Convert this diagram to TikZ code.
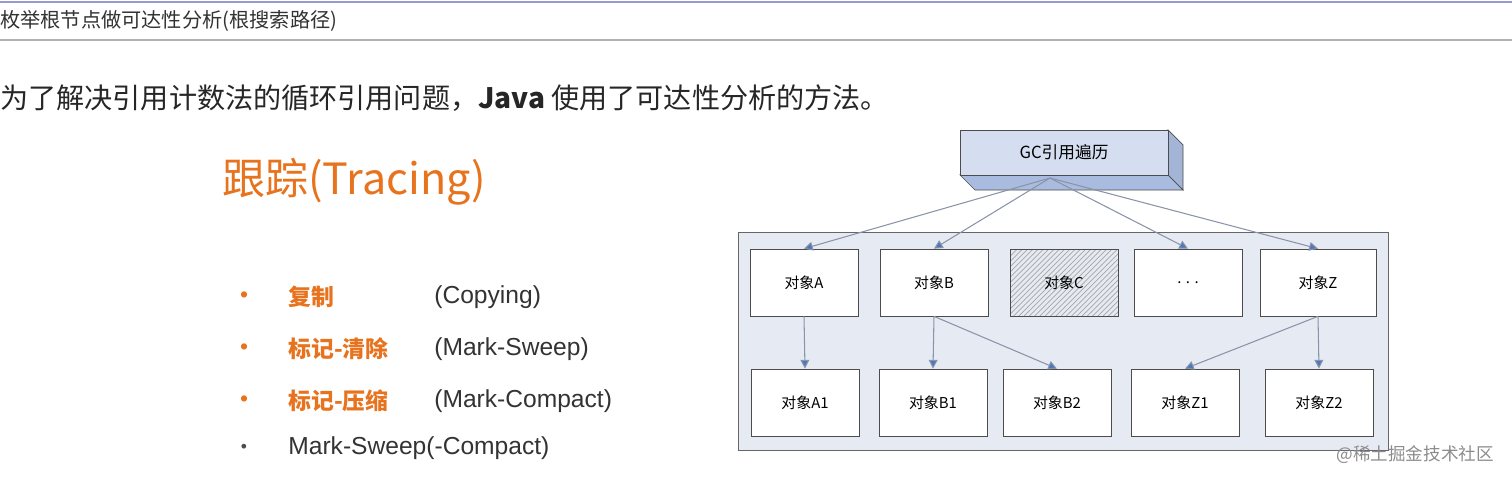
\documentclass[tikz,border=0pt]{standalone}
\usepackage{fontspec}
\setmainfont{Liberation Sans}
\newfontfamily\cjk{Noto Sans CJK SC}
\usetikzlibrary{arrows.meta,patterns}
\definecolor{org}{HTML}{E8731E}
\definecolor{boxbg}{HTML}{E6EAF3}
\definecolor{gcfront}{HTML}{D5DEF0}
\definecolor{gcside}{HTML}{A9BCE0}
\definecolor{arr}{HTML}{4A78C0}
\definecolor{lnk}{HTML}{8A93A8}
\tikzset{
 obj/.style={draw=black!70,fill=white,minimum width=108*0.02cm,minimum height=67*0.02cm,inner sep=0pt,font=\cjk\fontsize{8.5}{10}\selectfont},
 link/.style={draw=lnk,line width=0.6pt,-{Triangle[length=5pt,width=5pt,fill=arr]}},
 bul/.style={anchor=west,font=\cjk\bfseries\fontsize{13}{15}\selectfont,text=org},
 par/.style={anchor=west,font=\fontsize{14}{16}\selectfont,text=black!80},
}
\begin{document}
\begin{tikzpicture}[x=0.02cm,y=-0.02cm]
\useasboundingbox (0,0) rectangle (1512,481);
\fill[white] (0,0) rectangle (1512,481);
\draw[black!40!blue!40,line width=1.2pt] (0,2) -- (1512,2);
\draw[black!30,line width=1.2pt] (0,40) -- (1512,40);
\node[anchor=west,inner sep=0pt,font=\cjk\fontsize{11.5}{13}\selectfont,text=black!80] (hdr) at (0,21) {枚举根节点做可达性分析(根搜索路径)};
\node[anchor=west,inner sep=0pt,font=\cjk\fontsize{16}{19}\selectfont,text=black!85] (sent) at (0,98) {为了解决引用计数法的循环引用问题，\textbf{Java} 使用了可达性分析的方法。};
\node[anchor=west,inner sep=0pt,font=\cjk\fontsize{24.5}{28}\selectfont,text=org] (trace) at (222,182) {跟踪(Tracing)};
\foreach \y/\a/\b/\n in {297/复制/(Copying)/r1,349/标记-清除/(Mark-Sweep)/r2,401/标记-压缩/(Mark-Compact)/r3}{
  \node[text=org,font=\fontsize{13}{15}\selectfont] (d\n) at (244,\y) {•};
  \node[bul,inner sep=0pt] (a\n) at (288,\y) {\a};
  \node[par,inner sep=0pt] (b\n) at (434,\y) {\b};
}
\node[text=black!70,font=\fontsize{10}{12}\selectfont] (dr4) at (244,448) {•};
\node[par,inner sep=0pt] (ar4) at (288,448) {Mark-Sweep(-Compact)};
% diagram
\draw[black!60,fill=boxbg] (738,232) rectangle (1388,450);
\fill[gcside,draw=black!70] (960,175) -- (1168,175) -- (1183,190) -- (975,190) -- cycle;
\fill[gcside!80!black!20!gcside,draw=black!70] (1168,130) -- (1183,145) -- (1183,190) -- (1168,175) -- cycle;
\node[draw=black!70,fill=gcfront,minimum width=208*0.02cm,minimum height=45*0.02cm,font=\cjk\fontsize{9.5}{11}\selectfont] (gc) at (1064,152.5) {GC引用遍历};
\coordinate (gcb) at (1050,178);
\node[obj] (A) at (804,282.5) {对象A};
\node[obj] (B) at (934,282.5) {对象B};
\node[obj,pattern=north east lines,pattern color=black!35] (C) at (1064,282.5) {对象C};
\node[obj] (D) at (1188,282.5) {. . .};
\node[obj,minimum width=116*0.02cm] (Z) at (1318,282.5) {对象Z};
\node[obj] (A1) at (805,402.5) {对象A1};
\node[obj] (B1) at (933,402.5) {对象B1};
\node[obj] (B2) at (1057,402.5) {对象B2};
\node[obj] (Z1) at (1185,402.5) {对象Z1};
\node[obj] (Z2) at (1319,402.5) {对象Z2};
\draw[link] (gcb) -- (A.north);
\draw[link] (gcb) -- (B.north);
\draw[link] (gcb) -- (D.north);
\draw[link] (gcb) -- (Z.north);
\draw[link] (A.south) -- (A1.north);
\draw[link] (B.south) -- (B1.north);
\draw[link] (B.south) -- (B2.north);
\draw[link] (Z.south) -- (Z1.north);
\draw[link] (Z.south) -- (Z2.north);
\node[anchor=east,font=\cjk\fontsize{10}{12}\selectfont,text=black!45] (wm) at (1500,455) {@稀土掘金技术社区};
\end{tikzpicture}
\end{document}
